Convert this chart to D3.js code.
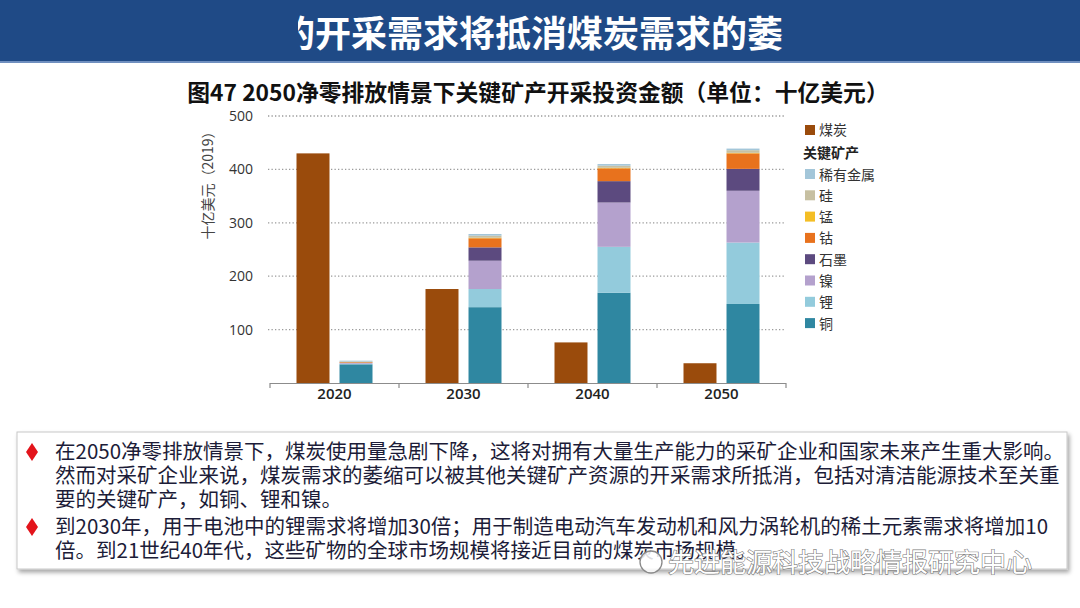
<!DOCTYPE html>
<html>
<head>
<meta charset="utf-8">
<script src="https://cdn.jsdelivr.net/npm/d3@7/dist/d3.min.js"></script>
<style>
	html, body { margin:0; padding:0; background:#ffffff; }
	svg { display:block; }
</style>
</head>
<body>
<div id="chart"></div>
<script>
	// Data (billions USD, 2019)
	var years = ['2020','2030','2040','2050'];
	var coal = [430, 176, 76, 37];
	var mineralKeys = ['铜','锂','镍','石墨','钴','锰','硅','稀有金属'];
	var copper = [35, 142, 169, 148];
	var lithium = [1, 34, 86, 115];
	var nickel = [1.5, 53, 83, 97];
	var graphite = [0.5, 25, 40, 41];
	var cobalt = [1, 17, 24, 29];
	var manganese = [0.3, 1, 1, 1];
	var silicon = [1, 4, 4, 5];
	var rareMetals = [1.5, 3, 3, 3];
	var yTicks = [100, 200, 300, 400, 500];
	var legendOrder = ['稀有金属','硅','锰','钴','石墨','镍','锂','铜'];
	var bullets = [
		['在2050净零排放情景下，煤炭使用量急剧下降，这将对拥有大量生产能力的采矿企业和国家未来产生重大影响。'
		,'然而对采矿企业来说，煤炭需求的萎缩可以被其他关键矿产资源的开采需求所抵消，包括对清洁能源技术至关重'
		,'要的关键矿产，如铜、锂和镍。']
		,['到2030年，用于电池中的锂需求将增加30倍；用于制造电动汽车发动机和风力涡轮机的稀土元素需求将增加10'
		,'倍。到21世纪40年代，这些矿物的全球市场规模将接近目前的煤炭市场规模。']
	];

	var colors = {
		'煤炭': '#9a4b0c'
		,'铜': '#2f87a1'
		,'锂': '#93cbdc'
		,'镍': '#b4a1cd'
		,'石墨': '#5c4a7f'
		,'钴': '#e8721d'
		,'锰': '#f4be25'
		,'硅': '#c7c0a2'
		,'稀有金属': '#a3c6d9'
	};

	var cjk = '"Noto Sans CJK SC","Noto Sans",sans-serif';
	var latin = '"Open Sans","Noto Sans CJK SC",sans-serif';

	var width = 1080, height = 608;
	var svg = d3.select('#chart').append('svg')
		.attr('width', width)
		.attr('height', height);

	// -----------------------------------------------------------------
	// Banner
	svg.append('rect')
		.attr('x',0).attr('y',0)
		.attr('width',width).attr('height',61)
		.attr('fill','#1f4a86');
	svg.append('rect')
		.attr('x',0).attr('y',61)
		.attr('width',width).attr('height',2)
		.attr('fill','#6f8fbf');
	svg.append('clipPath').attr('id','bannerClip')
		.append('rect')
		.attr('x',298).attr('y',0)
		.attr('width',500).attr('height',61);
	svg.append('text')
		.attr('clip-path','url(#bannerClip)')
		.attr('x',279).attr('y',47)
		.attr('font-family',cjk)
		.attr('font-size',36)
		.attr('font-weight',700)
		.attr('fill','#ffffff')
		.text('的开采需求将抵消煤炭需求的萎');

	// Chart title
	svg.append('text')
		.attr('x',538).attr('y',101)
		.attr('text-anchor','middle')
		.attr('font-family',cjk)
		.attr('font-size',22.8)
		.attr('font-weight',700)
		.attr('fill','#111111')
		.text('图47 2050净零排放情景下关键矿产开采投资金额（单位：十亿美元）');

	// -----------------------------------------------------------------
	// Scales
	var x0 = d3.scaleBand()
		.domain(years)
		.range([270, 786]);

	var x1 = d3.scaleBand()
		.domain(['coal','minerals'])
		.range([26.5, x0.bandwidth() - 26.5])
		.paddingInner(0.233);

	var y = d3.scaleLinear()
		.domain([0, 500])
		.range([383, 116]);

	// Grid lines
	svg.append('g')
		.selectAll('line')
		.data(yTicks)
		.enter()
		.append('line')
		.attr('x1',268).attr('x2',786)
		.attr('y1',function(d){ return y(d); })
		.attr('y2',function(d){ return y(d); })
		.attr('stroke','#9a9a9a')
		.attr('stroke-width',1.3)
		.attr('stroke-dasharray','1.3,2.2');

	// Y axis labels
	var yAxis = svg.append('g')
		.attr('transform','translate(262,0)')
		.call(d3.axisLeft(y).tickValues(yTicks).tickSize(0).tickPadding(9));
	yAxis.select('.domain').remove();
	yAxis.selectAll('text')
		.attr('font-family',latin)
		.attr('font-size',14)
		.attr('fill','#333333');

	svg.append('text')
		.attr('transform','translate(213,182) rotate(-90)')
		.attr('text-anchor','middle')
		.attr('font-family',cjk)
		.attr('font-size',14)
		.attr('fill','#444444')
		.text('十亿美元（2019）');

	// -----------------------------------------------------------------
	// Bars
	var stackRows = years.map(function(yr,i){
		return {
			year: yr
			,'铜': copper[i]
			,'锂': lithium[i]
			,'镍': nickel[i]
			,'石墨': graphite[i]
			,'钴': cobalt[i]
			,'锰': manganese[i]
			,'硅': silicon[i]
			,'稀有金属': rareMetals[i]
		};
	});
	var series = d3.stack().keys(mineralKeys)(stackRows);

	svg.append('g')
		.selectAll('rect')
		.data(years)
		.enter()
		.append('rect')
		.attr('x',function(d){ return x0(d) + x1('coal'); })
		.attr('width',x1.bandwidth())
		.attr('y',function(d,i){ return y(coal[i]); })
		.attr('height',function(d,i){ return y(0) - y(coal[i]); })
		.attr('fill',colors['煤炭']);

	var layers = svg.append('g')
		.selectAll('g')
		.data(series)
		.enter()
		.append('g')
		.attr('fill',function(d){ return colors[d.key]; });

	layers.selectAll('rect')
		.data(function(d){ return d; })
		.enter()
		.append('rect')
		.attr('x',function(d){ return x0(d.data.year) + x1('minerals'); })
		.attr('width',x1.bandwidth())
		.attr('y',function(d){ return y(d[1]); })
		.attr('height',function(d){ return y(d[0]) - y(d[1]); });

	// X axis
	svg.append('line')
		.attr('x1',270).attr('x2',786)
		.attr('y1',383.5).attr('y2',383.5)
		.attr('stroke','#8c8c8c')
		.attr('stroke-width',1.2);
	var bounds = years.map(function(d){ return x0(d); }).concat([x0.range()[1]]);
	svg.append('g')
		.selectAll('line')
		.data(bounds)
		.enter()
		.append('line')
		.attr('x1',function(d){ return d; })
		.attr('x2',function(d){ return d; })
		.attr('y1',383).attr('y2',388)
		.attr('stroke','#8c8c8c')
		.attr('stroke-width',1.2);

	var xAxis = svg.append('g')
		.attr('transform','translate(0,383)')
		.call(d3.axisBottom(x0).tickSize(0).tickPadding(5));
	xAxis.select('.domain').remove();
	xAxis.selectAll('text')
		.attr('font-family',latin)
		.attr('font-size',15)
		.attr('font-weight',600)
		.attr('fill','#222222');

	// -----------------------------------------------------------------
	// Legend
	var legend = svg.append('g')
		.attr('font-family',cjk)
		.attr('font-size',14)
		.attr('fill','#333333');

	legend.append('rect')
		.attr('x',805).attr('y',125)
		.attr('width',10).attr('height',10)
		.attr('fill',colors['煤炭']);
	legend.append('text')
		.attr('x',819).attr('y',135)
		.text('煤炭');
	legend.append('text')
		.attr('x',803).attr('y',158)
		.attr('font-weight',700)
		.attr('fill','#222222')
		.text('关键矿产');

	var items = legend.selectAll('g.item')
		.data(legendOrder)
		.enter()
		.append('g')
		.attr('class','item')
		.attr('transform',function(d,i){ return 'translate(805,' + (169 + i*21.3) + ')'; });
	items.append('rect')
		.attr('width',10).attr('height',10)
		.attr('fill',function(d){ return colors[d]; });
	items.append('text')
		.attr('x',14).attr('y',10.5)
		.text(function(d){ return d; });

	// -----------------------------------------------------------------
	// Text box
	svg.append('defs').append('filter')
		.attr('id','shadow')
		.attr('x','-2%').attr('y','-5%')
		.attr('width','104%').attr('height','115%')
		.append('feDropShadow')
		.attr('dx',2).attr('dy',3)
		.attr('stdDeviation',2)
		.attr('flood-color','#000000')
		.attr('flood-opacity',0.35);

	svg.append('rect')
		.attr('x',17).attr('y',432)
		.attr('width',1050).attr('height',137)
		.attr('fill','#ffffff')
		.attr('stroke','#c8c8c8')
		.attr('stroke-width',1)
		.attr('filter','url(#shadow)');

	var lineY = [[459, 483, 507], [534, 558]];
	var textG = svg.append('g')
		.attr('font-family',cjk)
		.attr('font-size',20.5)
		.attr('fill','#1c1c38');

	bullets.forEach(function(lines,b){
		var cy = lineY[b][0] - 7;
		textG.append('path')
			.attr('d','M32,' + (cy-9) + 'L38,' + cy + 'L32,' + (cy+9) + 'L26,' + cy + 'Z')
			.attr('fill','#e3141b');
		lines.forEach(function(t,k){
			textG.append('text')
				.attr('x',55).attr('y',lineY[b][k])
				.text(t);
		});
	});

	// Watermark
	var wm = svg.append('g');
	wm.append('circle')
		.attr('cx',651).attr('cy',562)
		.attr('r',11)
		.attr('fill','rgba(255,255,255,0.85)')
		.attr('stroke','#8a8a8a')
		.attr('stroke-width',1.3);
	wm.append('text')
		.attr('x',668).attr('y',572)
		.attr('font-family',cjk)
		.attr('font-size',26)
		.attr('fill','#ffffff')
		.attr('stroke','#7a7a7a')
		.attr('stroke-width',1.2)
		.attr('paint-order','stroke')
		.text('先进能源科技战略情报研究中心');
</script>
</body>
</html>
